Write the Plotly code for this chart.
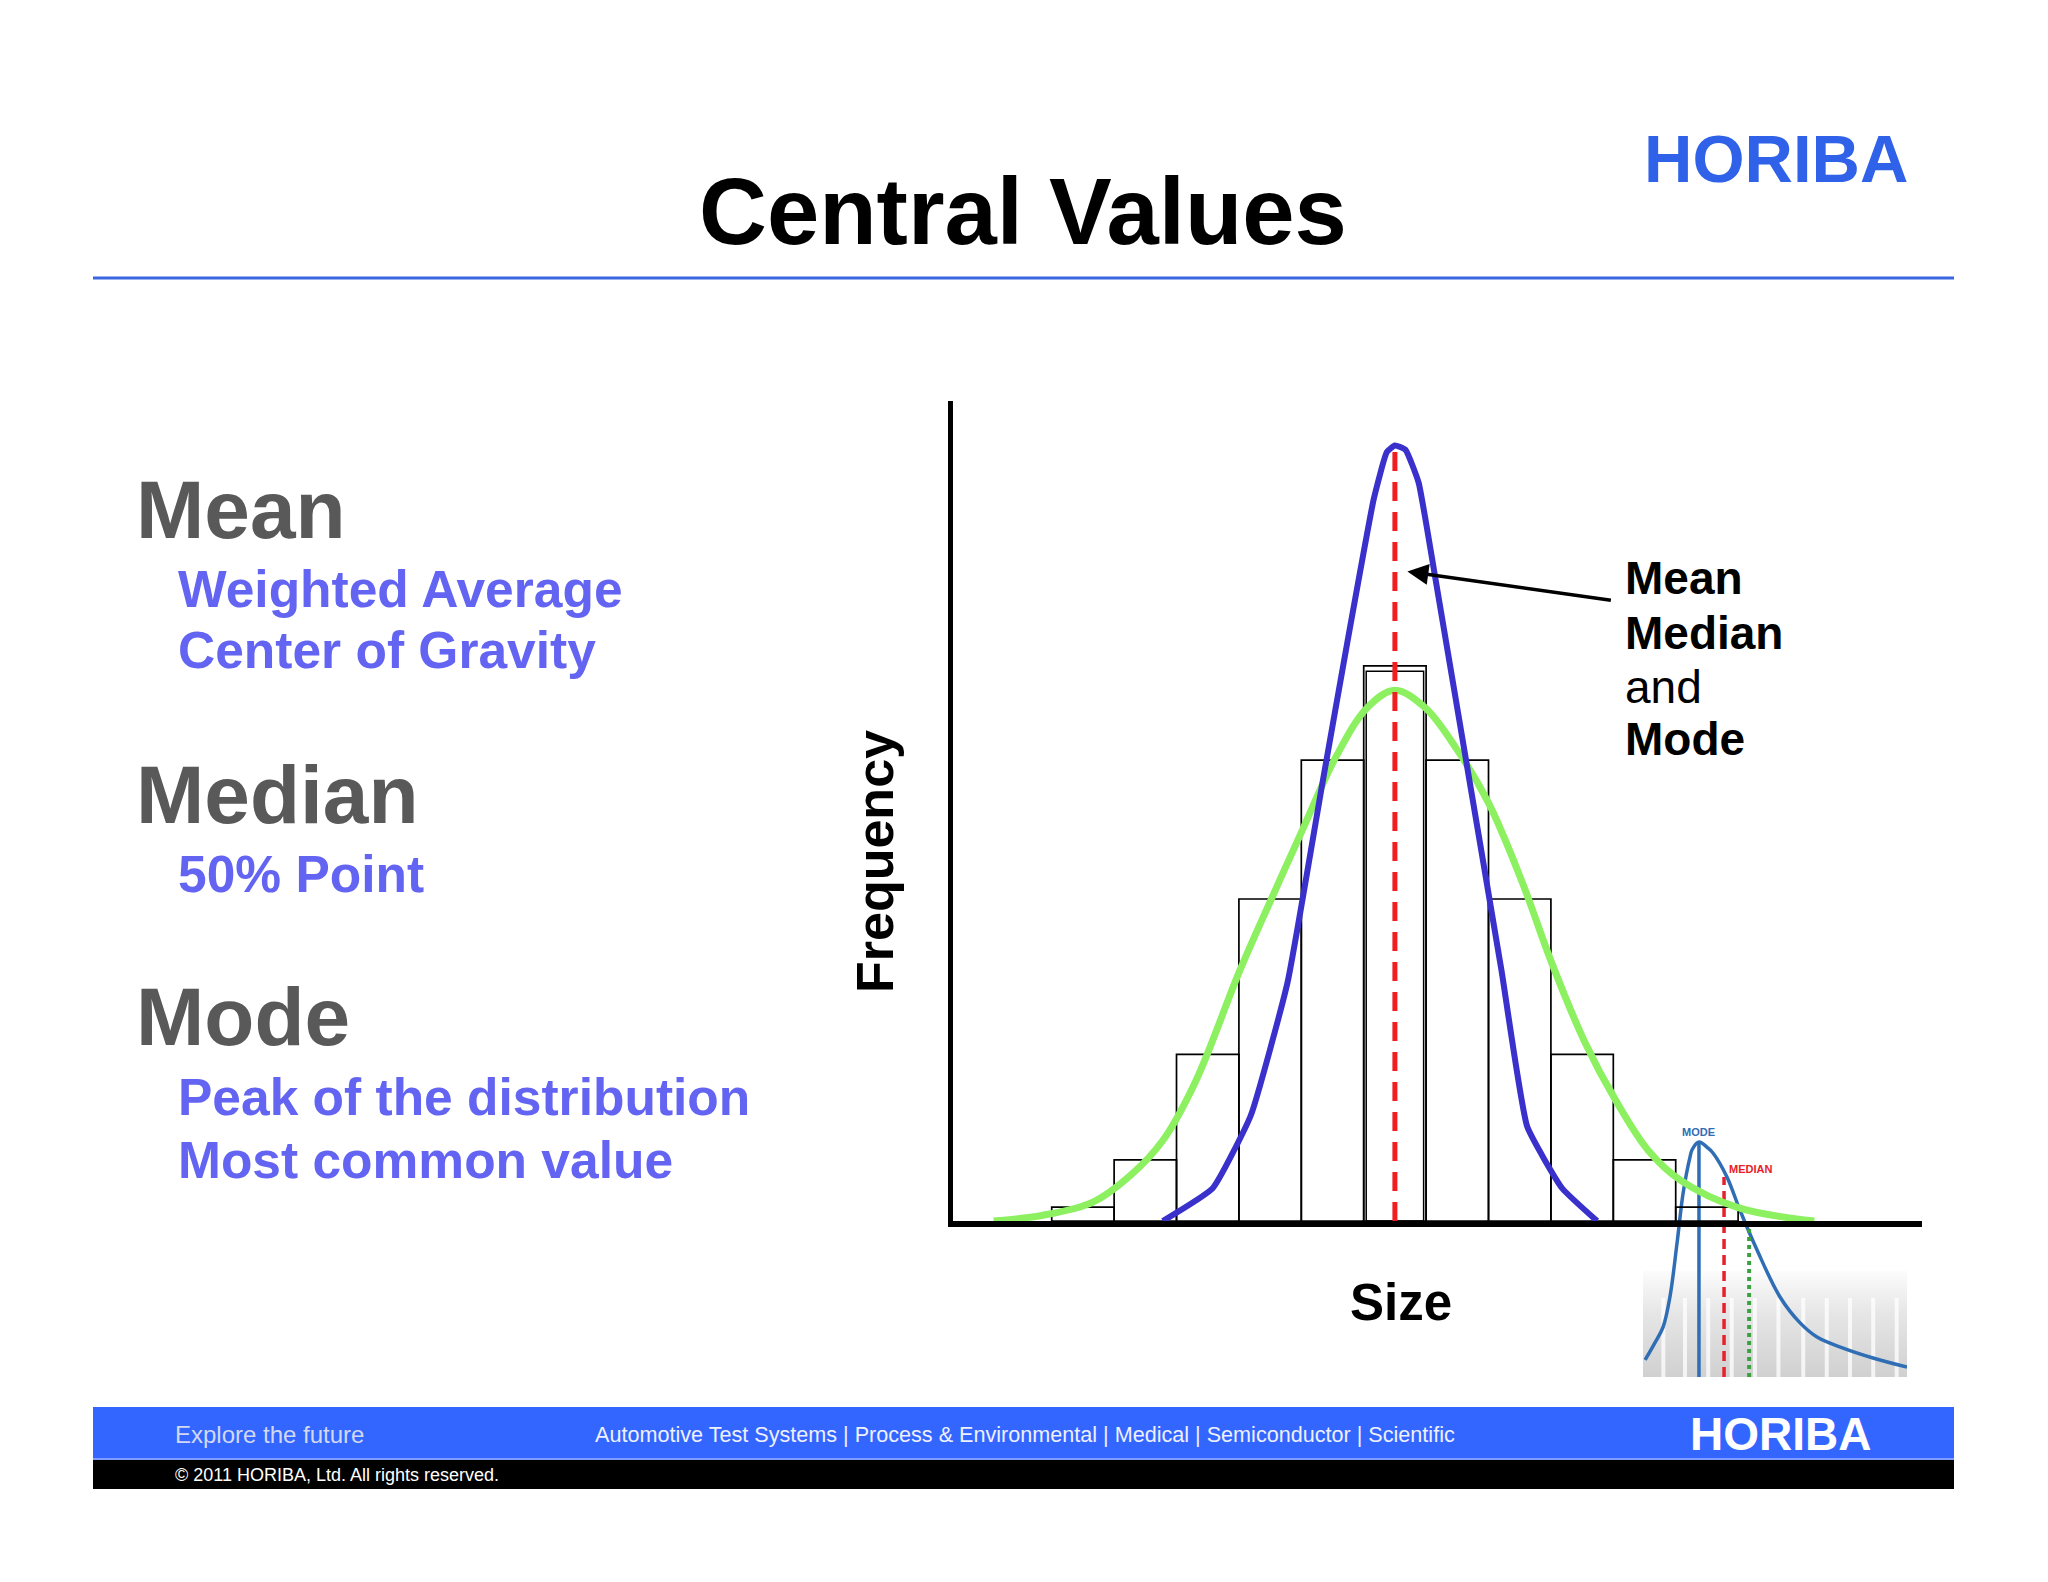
import plotly.graph_objects as go

# ---------------- data ----------------
bin_centers = [1, 2, 3, 4, 5, 6, 7, 8, 9, 10, 11]
bar_heights = [2.5, 11, 30, 58, 83, 100, 83, 58, 30, 11, 2.5]

narrow_x = [2.28, 3.08, 3.69, 4.28, 4.84, 5.25, 5.66, 5.87, 6.0, 6.17, 6.38, 6.63, 7.2, 7.71, 8.12, 8.68, 9.24]
narrow_y = [0, 5.9, 19, 43, 79, 105, 130, 138.5, 139.7, 138.9, 133, 117, 79, 45, 17, 5.9, 0]

broad_x = [-0.43, 0.34, 1.16, 1.77, 2.28, 2.8, 3.51, 4.02, 4.54, 5.05, 5.56, 6.0, 6.48, 6.99, 7.5, 8.02, 8.53, 9.04, 9.55, 10.06, 10.58, 11.5, 12.72]
broad_y = [0, 1, 3.4, 8.3, 14.5, 25, 45, 58, 71, 83.5, 92.5, 95.6, 92.5, 85, 75.3, 61.6, 46, 32.3, 21.5, 12.7, 7.3, 2.4, 0]

central_value = 6
central_line_top = 139
arrow_tip = (6.2, 117)

# skewed inset picture
skew_x = [0.8, 4.5, 7.6, 10.2, 12.9, 15.2, 17.8, 18.6, 21.2, 24.6, 26.5, 31.8, 36.7, 43.2, 51.9, 59.5, 65.9, 75.8, 87.1, 100]
skew_y = [6.9, 13.8, 20.2, 32.4, 54.3, 74.5, 89, 92, 95.1, 92.7, 90.7, 81, 67.6, 51.4, 32.4, 21.9, 16.2, 11.7, 7.7, 4.0]
skew_mode = (21.2, 95.1)
skew_median = (30.7, 81)
skew_mean = (40.2, 60)
skew_bg_x = [0, 100, 100, 0, 0]
skew_bg_y = [0, 0, 43, 43, 0]
skew_stripes = [7.7, 15.9, 24.7, 33.6, 42.4, 51.3, 60.7, 69.6, 78.4, 87.2, 96.1]
skew_stripe_top = 32

left_items = [
    ("Mean", ["Weighted Average", "Center of Gravity"]),
    ("Median", ["50% Point"]),
    ("Mode", ["Peak of the distribution", "Most common value"]),
]
footer_sections = ["Automotive Test Systems", "Process & Environmental", "Medical", "Semiconductor", "Scientific"]

W, H = 2048, 1582
OFF = 8  # page body margin
def px(x):
    return (x - OFF) / W
def py(y):
    return 1 - (y - OFF) / H

FONT = "Liberation Sans, Arial, sans-serif"

fig = go.Figure()

# ---- inset (drawn first => underneath) ----
fig.add_trace(go.Scatter(
    x=skew_bg_x, y=skew_bg_y, fill="toself", mode="lines", line=dict(width=0),
    fillgradient=dict(type="vertical", colorscale=[[0, "rgb(208,208,208)"], [0.6, "rgb(230,230,230)"], [1, "rgb(252,252,252)"]]),
    xaxis="x", yaxis="y", hoverinfo="skip", showlegend=False))
sx, sy = [], []
for s in skew_stripes:
    sx += [s, s, None]
    sy += [0, skew_stripe_top, None]
fig.add_trace(go.Scatter(x=sx, y=sy, mode="lines", line=dict(color="rgba(255,255,255,0.75)", width=4),
                         xaxis="x", yaxis="y", hoverinfo="skip", showlegend=False))
fig.add_trace(go.Scatter(x=skew_x, y=skew_y, mode="lines", line=dict(color="#2f6db5", width=3.5, shape="spline"),
                         xaxis="x", yaxis="y", showlegend=False))
fig.add_trace(go.Scatter(x=[skew_mode[0]] * 2, y=[0, skew_mode[1]], mode="lines", line=dict(color="#2f6db5", width=3.5),
                         xaxis="x", yaxis="y", showlegend=False))
fig.add_trace(go.Scatter(x=[skew_median[0]] * 2, y=[0, skew_median[1]], mode="lines",
                         line=dict(color="#e8202a", width=3.5, dash="10px,6px"),
                         xaxis="x", yaxis="y", showlegend=False))
fig.add_trace(go.Scatter(x=[skew_mean[0]] * 2, y=[0, skew_mean[1]], mode="lines",
                         line=dict(color="#3aa040", width=4, dash="dot"),
                         xaxis="x", yaxis="y", showlegend=False))

# ---- main chart ----
fig.add_trace(go.Bar(x=bin_centers, y=bar_heights, width=1, marker=dict(color="rgba(0,0,0,0)", line=dict(color="black", width=1.7)),
                     xaxis="x2", yaxis="y2", showlegend=False))
ci = bin_centers.index(central_value)
fig.add_trace(go.Bar(x=[bin_centers[ci]], y=[bar_heights[ci] - 1], width=0.92,
                     marker=dict(color="rgba(0,0,0,0)", line=dict(color="black", width=1.5)),
                     xaxis="x2", yaxis="y2", showlegend=False))
fig.add_trace(go.Scatter(x=broad_x, y=broad_y, mode="lines", line=dict(color="#8cf060", width=7, shape="spline", smoothing=1),
                         xaxis="x2", yaxis="y2", showlegend=False))
fig.add_trace(go.Scatter(x=narrow_x, y=narrow_y, mode="lines", line=dict(color="#3a30cc", width=6, shape="spline", smoothing=0.4),
                         xaxis="x2", yaxis="y2", showlegend=False))
fig.add_trace(go.Scatter(x=[central_value, central_value], y=[0, central_line_top], mode="lines",
                         line=dict(color="#f01e1e", width=5, dash="19px,11px"),
                         xaxis="x2", yaxis="y2", showlegend=False))

ann = []
def text(x, y, t, size, color, xa="center", ya="middle", family=FONT, **kw):
    ann.append(dict(x=px(x), y=py(y), xref="paper", yref="paper", text=t, showarrow=False,
                    xanchor=xa, yanchor=ya, font=dict(family=family, size=size, color=color), **kw))

# inset labels
ann.append(dict(x=skew_mode[0], y=skew_mode[1] + 1, xref="x", yref="y", text="<b>MODE</b>", showarrow=False,
                font=dict(family=FONT, size=11, color="#2f6db5"), xanchor="center", yanchor="bottom"))
ann.append(dict(x=skew_median[0] + 10, y=skew_median[1], xref="x", yref="y", text="<b>MEDIAN</b>", showarrow=False,
                font=dict(family=FONT, size=11, color="#e8202a"), xanchor="center", yanchor="bottom"))

# arrow
ann.append(dict(x=arrow_tip[0], y=arrow_tip[1], xref="x2", yref="y2", ax=205, ay=29, text="", showarrow=True,
                arrowhead=2, arrowsize=1.2, arrowwidth=3.5, arrowcolor="black"))

# right labels
for t, yy in [("<b>Mean</b>", 578), ("<b>Median</b>", 633), ("and", 687), ("<b>Mode</b>", 739)]:
    text(1623, yy, t, 46, "black", xa="left")

# axis labels
text(875, 862, "<b>Frequency</b>", 52, "black", textangle=-90)
text(1401, 1302, "<b>Size</b>", 51, "black")

# title + logo
text(1023, 212, "<b>Central Values</b>", 94, "black")
text(1776, 158, "<b>HORIBA</b>", 67, "#2f62e8")

# left list
head_y = [509, 794, 1017]
sub_y = [[589, 650], [874], [1097, 1160]]
for (head, subs), hy, sys_ in zip(left_items, head_y, sub_y):
    text(134, hy, "<b>%s</b>" % head, 82, "#595959", xa="left")
    for s, yy in zip(subs, sys_):
        text(176, yy, "<b>%s</b>" % s, 51.5, "#6464f2", xa="left")

# footer
text(173, 1434, "Explore the future", 24, "#d2d8f2", xa="left")
text(593, 1434, " | ".join(footer_sections), 21.6, "#eef0ff", xa="left")
text(1780, 1434, "<b>HORIBA</b>", 46, "white")
text(173, 1475, "© 2011 HORIBA, Ltd. All rights reserved.", 18, "white", xa="left")

shapes = [
    dict(type="line", xref="paper", yref="paper", x0=px(93), x1=px(1954), y0=py(278), y1=py(278),
         line=dict(color="#3a66e0", width=3)),
    dict(type="rect", xref="paper", yref="paper", x0=px(93), x1=px(1954), y0=py(1460), y1=py(1407),
         fillcolor="#3366ff", line=dict(width=0), layer="below"),
    dict(type="line", xref="paper", yref="paper", x0=px(93), x1=px(1954), y0=py(1459), y1=py(1459),
         line=dict(color="#7f9cff", width=2)),
    dict(type="rect", xref="paper", yref="paper", x0=px(93), x1=px(1954), y0=py(1489), y1=py(1460),
         fillcolor="black", line=dict(width=0), layer="below"),
]

hidden = dict(visible=False, showgrid=False, zeroline=False, fixedrange=True)
fig.update_layout(
    width=W, height=H, margin=dict(l=0, r=0, t=0, b=0),
    paper_bgcolor="white", plot_bgcolor="rgba(0,0,0,0)",
    showlegend=False, barmode="overlay",
    xaxis=dict(domain=[px(1643), px(1907)], range=[0, 100], anchor="y", **hidden),
    yaxis=dict(domain=[py(1377), py(1130)], range=[0, 100], anchor="x", **hidden),
    xaxis2=dict(domain=[px(953), px(1922)], range=[-1.082, 14.447], anchor="y2",
                showline=True, linewidth=6, linecolor="black", showgrid=False, zeroline=False,
                showticklabels=False, ticks=""),
    yaxis2=dict(domain=[py(1221), py(401)], range=[0, 147.7], anchor="x2",
                showline=True, linewidth=5, linecolor="black", showgrid=False, zeroline=False,
                showticklabels=False, ticks=""),
    annotations=ann, shapes=shapes,
)

fig.write_html("out.html")
